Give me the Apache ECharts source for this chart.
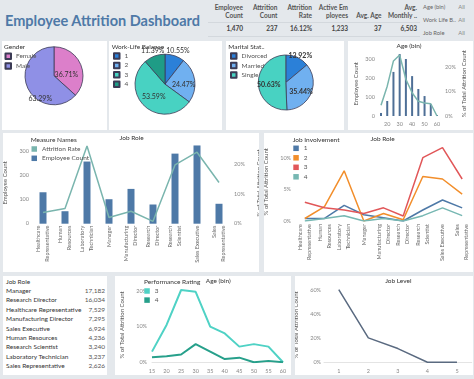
<!DOCTYPE html>
<html><head><meta charset="utf-8">
<script src="https://cdn.jsdelivr.net/npm/echarts/dist/echarts.min.js"></script>
<style>
html,body{margin:0;padding:0}
body{width:474px;height:379px;background:#e4e8ec;position:relative;overflow:hidden;font-family:Lato,'Open Sans',sans-serif}
.panel{position:absolute;background:#fff}
.tx{position:absolute;white-space:nowrap;line-height:1;z-index:5}
.ln{position:absolute;background:#d3d8dd;height:1px;z-index:4}
</style></head><body>
<script>
// ---------------- DATA ----------------
const dashTitle = 'Employee Attrition Dashboard';
const kpiLabels = [['Employee','Count'],['Attrition','Count'],['Attrition','Rate'],['Active Em','ployees'],['','Avg. Age'],['Avg.','Monthly ..']];
const kpiValues = ['1,470','237','16.12%','1,233','37','6,503'];
const filterNames = ['Age (bin)','Work Life B..','Job Role'];
const filterValues = ['All','All','All'];

const genderLabels = ['Female','Male'];
const genderPct = [36.71, 63.29];
const wlbLabels = ['1','2','3','4'];
const wlbPct = [10.55, 24.47, 53.59, 11.39];
const maritalLabels = ['Divorced','Married','Single'];
const maritalPct = [13.92, 35.44, 50.63];

const ageBins = ['15','20','25','30','35','40','45','50','55','60'];
const ageEmpCount = [16, 79, 232, 326, 300, 210, 142, 105, 63, 5];
const ageAttrPct = [4.4, 12.2, 22.5, 24.9, 15, 9.5, 6, 5.3, 5, 0];

const jobRoles = ['Healthcare Representative','Human Resources','Laboratory Technician','Manager','Manufacturing Director','Research Director','Research Scientist','Sales Executive','Sales Representative'];
const roleTickLabels = ['Healthcare\nRepresentative','Human\nResources','Laboratory\nTechnician','Manager','Manufacturing\nDirector','Research\nDirector','Research\nScientist','Sales Executive','Sales\nRepresentative'];
const roleEmpCount = [131, 52, 259, 102, 145, 80, 292, 326, 83];
const roleAttrPct = [3.8, 5.1, 26.2, 2.1, 4.2, 0.8, 19.8, 24.1, 13.9];
const measureNames = ['Attrition Rate','Employee Count'];

const jobInvLevels = ['1','2','3','4'];
const jobInv1 = [0.4, 0.4, 2.5, 1.0, 0.5, 0, 1.75, 3.35, 2.1];
const jobInv2 = [0.4, 2.3, 8.0, 0, 1.2, 0.2, 7.1, 6.7, 4.3];
const jobInv3 = [3.0, 2.1, 1.75, 1.2, 2.1, 0.8, 10.1, 11.7, 6.7];
const jobInv4 = [0, 0.4, 0.85, 0, 0.4, 0, 0.85, 2.1, 0.85];

const incomeRoles = ['Manager','Research Director','Healthcare Representative','Manufacturing Director','Sales Executive','Human Resources','Research Scientist','Laboratory Technician','Sales Representative'];
const incomeValues = [17182, 16034, 7529, 7295, 6924, 4236, 3240, 3237, 2626];

const perfRatings = ['3','4'];
const perfBins = ['15','20','25','30','35','40','45','50','55','60'];
const perf3 = [3.0, 10.5, 20.3, 19.8, 10.0, 8.1, 4.4, 5.1, 4.4, 0];
const perf4 = [1.4, 1.7, 2.2, 5.1, 3.0, 0.9, 1.3, 0, 0.4, 0];

const jobLevels = ['1','2','3','4','5'];
const jobLevelPct = [60.3, 20.3, 11.4, 0, 0];

// ---------------- HELPERS ----------------
const FF = 'Lato';
function txt(s, x, y, o = {}) {
  const e = document.createElement('div'); e.className = 'tx'; e.textContent = s;
  const a = o.align || 'left';
  const tx = a === 'left' ? '0' : a === 'center' ? '-50%' : '-100%';
  e.style.left = x + 'px'; e.style.top = y + 'px';
  e.style.fontSize = (o.size || 6.5) + 'px';
  e.style.color = o.color || '#333';
  e.style.fontWeight = o.weight || 'normal';
  e.style.transform = `translate(${tx},-50%)`;
  document.body.appendChild(e); return e;
}
function hline(x, y, w) { const d = document.createElement('div'); d.className = 'ln'; d.style.left = x + 'px'; d.style.top = y + 'px'; d.style.width = w + 'px'; document.body.appendChild(d); }
function panel(x, y, w, h) {
  const d = document.createElement('div'); d.className = 'panel';
  Object.assign(d.style, { left: x + 'px', top: y + 'px', width: w + 'px', height: h + 'px' });
  document.body.appendChild(d); return d;
}
function chart(x, y, w, h, opt) {
  const d = panel(x, y, w, h);
  const c = echarts.init(d, null, { renderer: 'canvas', width: w, height: h });
  opt.animation = false;
  opt.textStyle = { fontFamily: FF };
  c.setOption(opt);
  return c;
}
const LBL = { fontSize: 5.5, color: '#888', fontFamily: FF };
const NAME = { fontSize: 6, color: '#555', fontFamily: FF };
const NOAX = { axisLine: { show: false }, axisTick: { show: false }, splitLine: { show: false } };
function multOnly(m, suf) { return v => (Math.abs(v / m - Math.round(v / m)) < 1e-6 ? v + suf : ''); }
function legendCfg(names, left, top, gap) {
  return { orient: 'vertical', left, top, data: names, icon: 'rect', itemWidth: 5.5, itemHeight: 5.5, itemGap: gap, z: 10,
    selectedMode: false, padding: 0, textStyle: { fontSize: 6.5, color: '#555', lineHeight: 9, fontFamily: FF } };
}
function pieLayout(values, cx, cy, r, nudges) {
  const tot = values.reduce((a, b) => a + b, 0); let acc = 0;
  const pos = values.map(v => { const mid = (acc + v / 2) / tot * 2 * Math.PI; acc += v; return [cx + Math.sin(mid) * r * 0.5, cy - Math.cos(mid) * r * 0.5]; });
  return p => ({ x: pos[p.dataIndex][0] + nudges[p.dataIndex][0], y: pos[p.dataIndex][1] + nudges[p.dataIndex][1], align: 'center', verticalAlign: 'middle' });
}
function pieSeries(labels, values, colors, cx, cy, r, nudges, bold) {
  return {
    type: 'pie', center: [cx, cy], radius: r, startAngle: 90, clockwise: true, avoidLabelOverlap: false, z: 2,
    data: labels.map((n, i) => ({ name: n, value: values[i], itemStyle: { color: colors[i] } })),
    label: { show: true, position: 'inside', formatter: p => p.value.toFixed(2) + '%', fontSize: 7, color: '#333', fontWeight: bold ? 'bold' : 'normal', fontFamily: FF },
    labelLine: { show: false },
    itemStyle: { borderColor: '#3b3b55', borderWidth: 0.8 },
    emphasis: { disabled: true },
    labelLayout: pieLayout(values, cx, cy, r, nudges)
  };
}

// ---------------- HEADER ----------------
const tEl = txt(dashTitle, 5, 21, { size: 15.5, weight: 'bold', color: '#4e79a7' });
tEl.style.transformOrigin = '0 50%';
tEl.style.transform = `translate(0,-50%) scaleX(${195 / tEl.offsetWidth})`;
const kpiRight = [243, 277.5, 312, 348, 381.5, 417];
kpiLabels.forEach((l, i) => {
  if (l[0]) txt(l[0], kpiRight[i], 7.5, { align: 'right', size: 6.5, weight: 'bold', color: '#555' });
  txt(l[1], kpiRight[i], 16, { align: 'right', size: 6.5, weight: 'bold', color: '#555' });
  txt(kpiValues[i], kpiRight[i], 28.5, { align: 'right', size: 6.5, weight: 'bold', color: '#444' });
});
hline(208, 22, 212); hline(208, 36, 212);
filterNames.forEach((f, i) => {
  txt(f, 423, 6.5 + 13 * i, { size: 5.8, color: '#666' });
  txt(filterValues[i], 465, 6.5 + 13 * i, { align: 'right', size: 5.8, color: '#888' });
});

// ---------------- ROW 2: PIES ----------------
chart(2, 41, 105, 89, {
  legend: legendCfg(genderLabels, 2.5, 10.8, 0.7),
  series: [pieSeries(genderLabels, genderPct, ['#dc7fca', '#8f90e6'], 52, 34.8, 29, [[-0.9, 5.1], [-0.5, 16.6]], false)]
});
txt('Gender', 4, 46.7, { size: 6.5 });

chart(109, 41, 113, 89, {
  legend: legendCfg(wlbLabels, 4, 10.5, 0.4),
  series: [pieSeries(wlbLabels, wlbPct, ['#2b80d8', '#70b0f0', '#48d2c2', '#1f9c86'], 56, 43.2, 30, [[8.1, -19.3], [3.8, 2.9], [-1.1, 1.5], [-7.1, -19.4]], false)]
});
txt('Work-Life Balance', 111.7, 46.7, { size: 6.5 });

chart(226, 41, 118, 89, {
  legend: legendCfg(maritalLabels, 4, 10.5, 0.5),
  series: [pieSeries(maritalLabels, maritalPct, ['#2b80d8', '#70b0f0', '#48d2c2'], 59.8, 41.5, 27.5, [[8.7, -14], [2.6, 3.6], [-3.3, 2.2]], true)]
});
txt('Marital Stat..', 228.3, 46.7, { size: 6.5 });

// Age histogram
chart(348, 41, 125, 89, {
  grid: { left: 29.9, right: 32.9, top: 10.4, bottom: 14, containLabel: false, outerBoundsMode: 'none' },
  xAxis: { type: 'category', data: ageBins, boundaryGap: true, ...NOAX,
    axisLabel: { ...LBL, margin: 5, interval: 0, formatter: (v, i) => (i % 2 === 1 ? v : '') } },
  yAxis: [
    { type: 'value', min: 0, max: 340, interval: 100, ...NOAX, axisLabel: { ...LBL, margin: 3, formatter: multOnly(100, '') },
      name: 'Employee Count', nameLocation: 'middle', nameGap: 19, nameRotate: 90, nameTextStyle: NAME },
    { type: 'value', position: 'right', min: 0, max: 26.4, interval: 10, ...NOAX, axisLabel: { ...LBL, margin: 5, formatter: multOnly(10, '%') },
      name: '% of Total Attrition Count', nameLocation: 'middle', nameGap: 21, nameRotate: 90, nameTextStyle: NAME }
  ],
  series: [
    { type: 'bar', data: ageEmpCount, barWidth: 2, itemStyle: { color: '#4e6f96' }, yAxisIndex: 0 },
    { type: 'line', data: ageAttrPct, yAxisIndex: 1, symbol: 'none', lineStyle: { color: '#7ab5ae', width: 1.5 } }
  ]
});
txt('Age (bin)', 409, 46, { size: 6.5, align: 'center' });

// ---------------- ROW 3 ----------------
chart(3, 133, 256, 139, {
  legend: legendCfg(measureNames, 28.5, 11.5, 0.3),
  grid: { left: 29, right: 29, top: 9.1, bottom: 48.3, containLabel: false, outerBoundsMode: 'none' },
  xAxis: { type: 'category', data: jobRoles, boundaryGap: true, ...NOAX,
    axisLabel: { fontSize: 5.5, color: '#666', fontFamily: FF, rotate: 90, margin: 2, interval: 0, lineHeight: 9, formatter: (v, i) => roleTickLabels[i] } },
  yAxis: [
    { type: 'value', min: 0, max: 340, interval: 100, ...NOAX, axisLabel: { ...LBL, margin: 3, formatter: multOnly(100, '') },
      name: 'Employee Count', nameLocation: 'middle', nameGap: 18, nameRotate: 90, nameTextStyle: NAME },
    { type: 'value', position: 'right', min: 0, max: 27.5, interval: 10, ...NOAX, axisLabel: { ...LBL, margin: 4, formatter: multOnly(10, '%') },
      name: '% of Total Attrition Count', nameLocation: 'middle', nameGap: 21, nameRotate: 90, nameTextStyle: NAME }
  ],
  series: [
    { name: 'Employee Count', type: 'bar', data: roleEmpCount, barWidth: 7, itemStyle: { color: '#4e79a7' }, yAxisIndex: 0 },
    { name: 'Attrition Rate', type: 'line', data: roleAttrPct, yAxisIndex: 1, symbol: 'none', itemStyle: { color: '#7ab5ae' }, lineStyle: { color: '#7ab5ae', width: 1.5 } }
  ]
});
txt('Job Role', 131.7, 138.3, { size: 6.5, align: 'center' });
txt('Measure Names', 30.7, 140, { size: 6.5 });

const invColors = ['#4e79a7', '#f28e2b', '#e15759', '#76b7b2'];
const invData = [jobInv1, jobInv2, jobInv3, jobInv4];
chart(264, 133, 209, 139, {
  legend: legendCfg(jobInvLevels, 29.3, 10.8, 0.5),
  grid: { left: 31, right: 1, top: 9.6, bottom: 51, containLabel: false, outerBoundsMode: 'none' },
  xAxis: { type: 'category', data: jobRoles, boundaryGap: true, ...NOAX,
    axisLabel: { fontSize: 5.5, color: '#666', fontFamily: FF, rotate: 90, margin: 3, interval: 0, lineHeight: 9, formatter: (v, i) => roleTickLabels[i] } },
  yAxis: { type: 'value', min: 0, max: 12.5, interval: 5, ...NOAX, axisLabel: { ...LBL, margin: 4, formatter: multOnly(5, '%') },
    name: '% of Total Attrition Count', nameLocation: 'middle', nameGap: 20, nameRotate: 90, nameTextStyle: NAME },
  series: jobInvLevels.map((n, k) => ({ name: n, type: 'line', data: invData[k], symbol: 'none', itemStyle: { color: invColors[k] }, lineStyle: { color: invColors[k], width: 1.5 } }))
});
txt('Job Role', 382.7, 139, { size: 6.5, align: 'center' });
txt('Job Involvement', 292.7, 140, { size: 6.5 });

// ---------------- ROW 4 ----------------
panel(3, 276, 104, 99);
txt('Job Role', 6, 281.7, { size: 6.5 });
incomeRoles.forEach((r, i) => {
  const y = 290.7 + i * 9.45;
  txt(r, 6, y, { size: 6.5, color: '#333' });
  txt(incomeValues[i].toLocaleString('en-US'), 105, y, { size: 6.5, color: '#555', align: 'right' });
});

const perfColors = ['#4fd2c5', '#27a08b'];
chart(115, 276, 176, 99, {
  legend: legendCfg(perfRatings, 29.3, 10.5, 0.1),
  grid: { left: 37, right: 8, top: 11.5, bottom: 12.7, containLabel: false, outerBoundsMode: 'none' },
  xAxis: { type: 'category', data: perfBins, boundaryGap: false, axisTick: { show: false }, splitLine: { show: false },
    axisLine: { show: true, lineStyle: { color: '#e4e4e4', width: 1 } }, axisLabel: { ...LBL, margin: 6, interval: 0 } },
  yAxis: { type: 'value', min: 0, max: 21, interval: 10, ...NOAX, axisLabel: { ...LBL, margin: 5, formatter: multOnly(10, '%') },
    name: '% of Total Attrition Count', nameLocation: 'middle', nameGap: 27, nameRotate: 90, nameTextStyle: NAME },
  series: [
    { name: '3', type: 'line', data: perf3, symbol: 'none', itemStyle: { color: perfColors[0] }, lineStyle: { color: perfColors[0], width: 2 } },
    { name: '4', type: 'line', data: perf4, symbol: 'none', itemStyle: { color: perfColors[1] }, lineStyle: { color: perfColors[1], width: 2 } }
  ]
});
txt('Age (bin)', 218.3, 281, { size: 6.5, align: 'center' });
txt('Performance Rating', 144, 282.3, { size: 6.5 });

chart(295, 276, 178, 99, {
  grid: { left: 29, right: 1.25, top: 11.6, bottom: 12.7, containLabel: false, outerBoundsMode: 'none' },
  xAxis: { type: 'category', data: jobLevels, boundaryGap: true, axisTick: { show: false }, splitLine: { show: false },
    axisLine: { show: true, lineStyle: { color: '#e4e4e4', width: 1 } }, axisLabel: { ...LBL, margin: 6, interval: 0 } },
  yAxis: { type: 'value', min: 0, max: 62, interval: 20, ...NOAX, axisLabel: { ...LBL, margin: 3, formatter: multOnly(20, '%') },
    name: '% of Total Attrition Count', nameLocation: 'middle', nameGap: 18, nameRotate: 90, nameTextStyle: NAME },
  series: [{ type: 'line', data: jobLevelPct, symbol: 'none', lineStyle: { color: '#5a6a80', width: 1.5 } }]
});
txt('Job Level', 398.3, 281, { size: 6.5, align: 'center' });
</script>
</body></html>
